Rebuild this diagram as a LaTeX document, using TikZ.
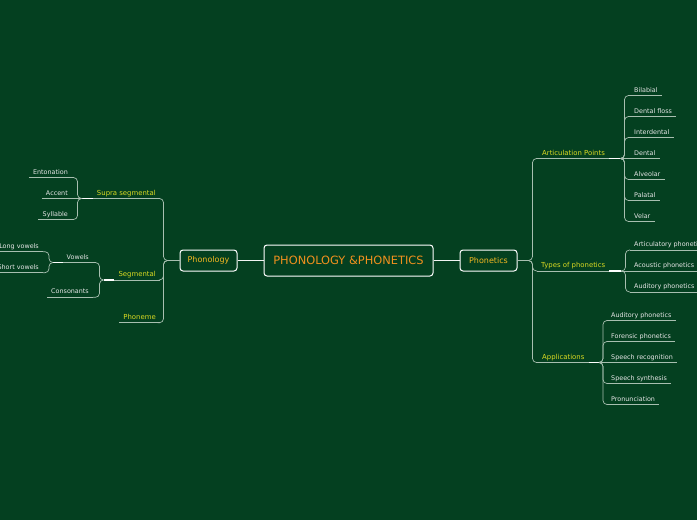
\documentclass[tikz,border=0pt]{standalone}
\usepackage{fontspec}
\setmainfont{DejaVu Sans}
\definecolor{bg}{HTML}{044020}
\definecolor{linec}{HTML}{A8BFB0}
\definecolor{leaft}{HTML}{E6E6E6}
\definecolor{brt}{HTML}{DADA22}
\definecolor{phont}{HTML}{F5B820}
\definecolor{titlet}{HTML}{F0901E}
\newcommand\myul[1]{\draw[uline] (#1.south west) -- (#1.south east);}
\begin{document}
\begin{tikzpicture}[x=1pt,y=-1pt,
  conn/.style={draw=linec, line width=0.7pt, rounded corners=4pt},
  sconn/.style={draw=linec, line width=0.7pt, rounded corners=3pt},
  leafR/.style={anchor=south west, inner xsep=4pt, inner ysep=3.2pt, text depth=0pt, text=leaft, font=\fontsize{6.4}{7}\selectfont},
  leafL/.style={leafR, anchor=south east},
  brR/.style={leafR, text=brt, font=\fontsize{6.9}{8}\selectfont},
  brL/.style={brR, anchor=south east},
  uline/.style={draw=linec, line width=0.7pt},
  wseg/.style={draw=white, line width=1.6pt},
  box/.style={draw=white, line width=1pt, rounded corners=3pt, fill=bg, inner sep=0pt},
  mainconn/.style={draw=white!85!linec, line width=1.2pt}
]
\fill[bg] (0,0) rectangle (697,520);
\useasboundingbox (0,0) rectangle (697,520);

% central nodes
\node[box, minimum width=169pt, minimum height=31pt, text=titlet, font=\fontsize{11.4}{13}\selectfont] (main) at (348.5,260.5) {PHONOLOGY \&PHONETICS};
\node[box, minimum width=57pt, minimum height=21pt, text=phont, font=\fontsize{8}{9}\selectfont] (phonology) at (208.5,260.5) {Phonology};
\node[box, minimum width=57pt, minimum height=21pt, text=phont, font=\fontsize{8}{9}\selectfont] (phonetics) at (488.5,260.5) {Phonetics};
\draw[mainconn] (main.west) -- (phonology.east);
\draw[mainconn] (main.east) -- (phonetics.west);

% ---------- right side ----------
\node[brR] (ap) at (538,158.5) {Articulation Points};
\node[brR] (tp) at (537,271) {Types of phonetics};
\node[brR] (apl) at (538,362.5) {Applications};
\myul{ap}\myul{tp}\myul{apl}
\draw[conn] (phonetics.east) -- ++(15,0) |- (ap.south west);
\draw[conn] (phonetics.east) -- ++(15,0) |- (tp.south west);
\draw[conn] (phonetics.east) -- ++(15,0) |- (apl.south west);

\coordinate (apf) at (620,158.5);
\coordinate (tpf) at (621,271);
\coordinate (aplf) at (599,362.5);
\draw[wseg] (ap.south east) -- (apf);
\draw[wseg] (tp.south east) -- (tpf);
\draw[wseg] (apl.south east) -- (aplf);

\node[leafR] (bil) at (630,95.5) {Bilabial};
\node[leafR] (dfl) at (630,116.5) {Dental floss};
\node[leafR] (int) at (630,137.5) {Interdental};
\node[leafR] (den) at (630,158.5) {Dental};
\node[leafR] (alv) at (630,179.5) {Alveolar};
\node[leafR] (pal) at (630,200.5) {Palatal};
\node[leafR] (vel) at (630,221.5) {Velar};
\foreach \n in {bil,dfl,int,den,alv,pal,vel}{\myul{\n}}
\foreach \n in {bil,dfl,int,alv,pal,vel}{\draw[conn] (apf) -- ++(4.5,0) |- (\n.south west);}
\draw[uline] (apf) -- (den.south west);

\node[leafR] (art) at (630,250) {Articulatory phonetics};
\node[leafR] (aco) at (630,271) {Acoustic phonetics};
\node[leafR] (aud) at (630,292) {Auditory phonetics};
\foreach \n in {art,aco,aud}{\myul{\n}}
\draw[conn] (tpf) -- ++(4.5,0) |- (art.south west);
\draw[conn] (tpf) -- ++(4.5,0) |- (aud.south west);
\draw[uline] (tpf) -- (aco.south west);

\node[leafR] (aud2) at (607,320.5) {Auditory phonetics};
\node[leafR] (for) at (607,341.5) {Forensic phonetics};
\node[leafR] (spr) at (607,362.5) {Speech recognition};
\node[leafR] (sps) at (607,383.5) {Speech synthesis};
\node[leafR] (pro) at (607,404.5) {Pronunciation};
\foreach \n in {aud2,for,spr,sps,pro}{\myul{\n}}
\foreach \n in {aud2,for,sps,pro}{\draw[conn] (aplf) -- ++(4,0) |- (\n.south west);}
\draw[uline] (aplf) -- (spr.south west);

% ---------- left side ----------
\node[brL] (sup) at (160,198.5) {Supra segmental};
\node[brL] (seg) at (160,280) {Segmental};
\node[brL] (pho) at (160,322.7) {Phoneme};
\myul{sup}\myul{seg}\myul{pho}
\draw[conn] (phonology.west) -- ++(-16,0) |- (sup.south east);
\draw[conn] (phonology.west) -- ++(-16,0) |- (seg.south east);
\draw[conn] (phonology.west) -- ++(-16,0) |- (pho.south east);

\coordinate (supf) at (82,198.5);
\coordinate (segf) at (103.5,280);
\draw[wseg] (sup.south west) -- (supf);
\draw[wseg] (seg.south west) -- (segf);

\node[leafL] (ent) at (72,177.5) {Entonation};
\node[leafL] (acc) at (72,198.5) {Accent};
\node[leafL] (syl) at (72,219.5) {Syllable};
\foreach \n in {ent,acc,syl}{\myul{\n}}
\draw[conn] (supf) -- ++(-4.5,0) |- (ent.south east);
\draw[conn] (supf) -- ++(-4.5,0) |- (syl.south east);
\draw[uline] (supf) -- (acc.south east);

\node[leafL] (vow) at (93,262.5) {Vowels};
\node[leafL] (con) at (93,297.3) {Consonants};
\myul{vow}\myul{con}
\draw[conn] (segf) -- ++(-4,0) |- (vow.south east);
\draw[conn] (segf) -- ++(-4,0) |- (con.south east);

\coordinate (vowf) at (53,262.5);
\draw[wseg] (vow.south west) -- (vowf);
\node[leafL] (lng) at (43,251.7) {Long vowels};
\node[leafL] (sht) at (43,272.7) {Short vowels};
\myul{lng}\myul{sht}
\draw[conn] (vowf) -- ++(-4,0) |- (lng.south east);
\draw[conn] (vowf) -- ++(-4,0) |- (sht.south east);
\end{tikzpicture}
\end{document}
